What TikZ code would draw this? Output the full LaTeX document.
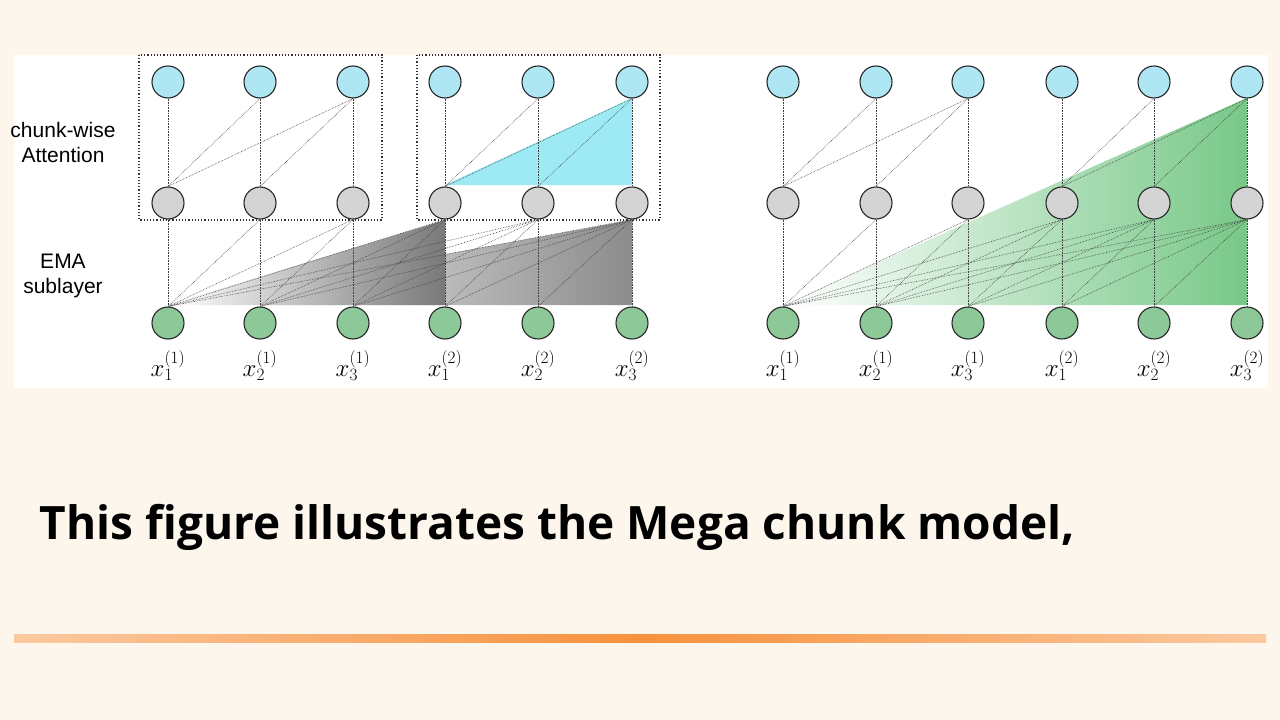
\documentclass[tikz,border=0pt]{standalone}
\usepackage{fontspec}
\setsansfont{Liberation Sans}
\newfontfamily\capfont{Open Sans}
\usetikzlibrary{calc}
\definecolor{bgc}{HTML}{FDF6EC}
\definecolor{bluen}{HTML}{AEE7F3}
\definecolor{grayn}{HTML}{D4D4D4}
\definecolor{greenn}{HTML}{8CC898}
\definecolor{greensh}{HTML}{78C888}
\definecolor{orng}{HTML}{F7923E}
\definecolor{orngl}{HTML}{FBC9A0}
\tikzset{
  nd/.style={circle,draw=black!85,line width=1.1pt,minimum size=32pt,inner sep=0pt},
  bn/.style={nd,fill=bluen},
  gn/.style={nd,fill=grayn},
  en/.style={nd,fill=greenn},
  ln/.style={densely dotted,gray!50!black,line width=0.6pt},
  lab/.style={font=\fontsize{25pt}{25pt}\selectfont},
  side/.style={font=\sffamily\fontsize{21pt}{25pt}\selectfont,align=center},
}
\begin{document}
\begin{tikzpicture}[x=1pt,y=-1pt]
\useasboundingbox (0,0) rectangle (1280,720);
\fill[bgc] (0,0) rectangle (1280,720);
\fill[white] (14,55) rectangle (1268,388);
% shading left
\shade[left color=white,right color=gray!90] (168,305) -- (632,305) -- (632,220) -- cycle;
\shade[left color=white,right color=gray!95!black] (168,305) -- (445,305) -- (445,220) -- cycle;
\fill[bluen!90!cyan] (445,185) -- (632,185) -- (632,98) -- cycle;
% shading right
\shade[left color=white,right color=greensh] (783,305) -- (1247,305) -- (1247,98) -- cycle;
% nodes
\foreach \x [count=\i] in {168,260,353,445,538,632}{
  \node[bn] (b\i) at (\x,82) {};
  \node[gn] (g\i) at (\x,203) {};
  \node[en] (e\i) at (\x,323) {};
}
\foreach \x [count=\i] in {783,876,968,1062,1154,1247}{
  \node[bn] (rb\i) at (\x,82) {};
  \node[gn] (rg\i) at (\x,203) {};
  \node[en] (re\i) at (\x,323) {};
}
% boxes
\draw[dotted,line width=1.2pt,black!80] (139,55) rectangle (382,220);
\draw[dotted,line width=1.2pt,black!80] (417,55) rectangle (660,220);
% attention (chunked)
\foreach \j in {1,2,3}{\foreach \i in {1,...,\j}{
  \draw[ln] (b\j.south) -- (g\i.north);
  \draw[ln] (rb\j.south) -- (rg\i.north);}}
\foreach \j in {4,5,6}{\foreach \i in {4,...,\j}{
  \draw[ln] (b\j.south) -- (g\i.north);
  \draw[ln] (rb\j.south) -- (rg\i.north);}}
% EMA
\foreach \j in {1,...,6}{\foreach \i in {1,...,\j}{
  \draw[ln] (g\j.south) -- (e\i.north);
  \draw[ln] (rg\j.south) -- (re\i.north);
}}
% labels
\foreach \x/\s/\c in {168/1/1,260/2/1,353/3/1,445/1/2,538/2/2,632/3/2}{
  \node[lab] (l\s\c) at (\x,366) {$x_{\s}^{(\c)}$};
}
\foreach \x/\s/\c in {783/1/1,876/2/1,968/3/1,1062/1/2,1154/2/2,1247/3/2}{
  \node[lab] (rl\s\c) at (\x,366) {$x_{\s}^{(\c)}$};
}
\node[side] (t1) at (63,142) {chunk-wise\\Attention};
\node[side] (t2) at (63,276) {EMA\\sublayer};
\node[anchor=west,font=\capfont\bfseries\fontsize{46pt}{46pt}\selectfont] (cap) at (36,527) {This figure illustrates the Mega chunk model,};
\shade[left color=orngl,right color=orngl,middle color=orng] (14,634) rectangle (1266,642);
\end{tikzpicture}
\end{document}
